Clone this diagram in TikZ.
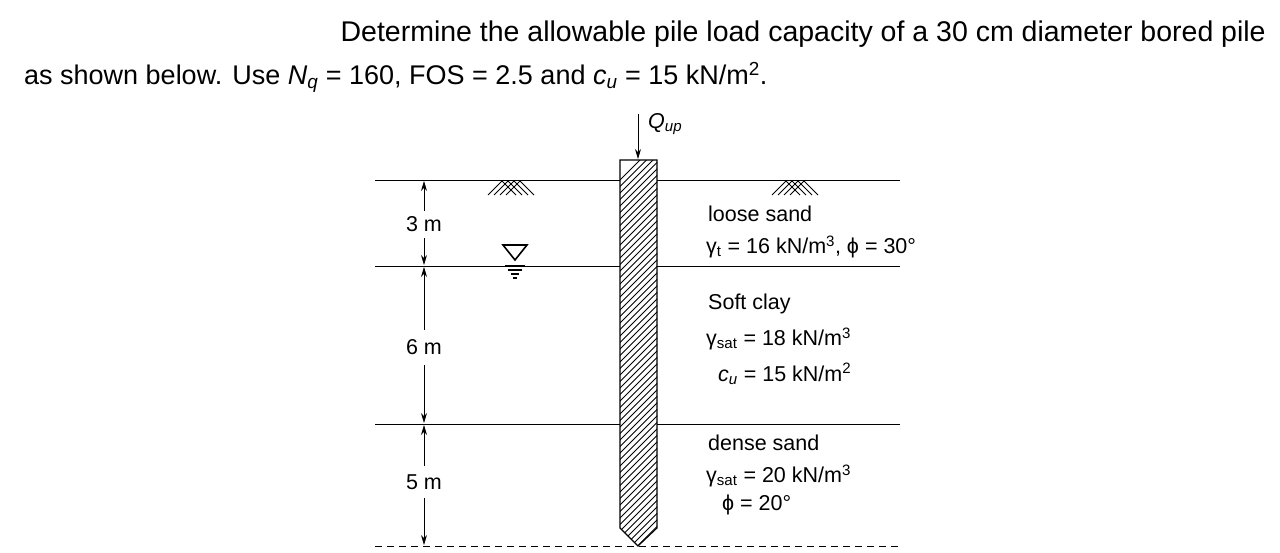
\documentclass[tikz,border=0pt]{standalone}
\usepackage{fontspec}
\setmainfont{Liberation Sans}
\usetikzlibrary{arrows.meta}
\newcommand{\ii}[1]{\textit{#1}}
\begin{document}
\begin{tikzpicture}[x=1pt,y=-1pt,
 lbl/.style={font=\fontsize{21.5}{25}\selectfont,anchor=west,inner sep=0},
 dim/.style={-{Stealth[length=10pt,width=6pt]},line width=0.8pt},
 gl/.style={line width=0.9pt}]
\useasboundingbox (0,0) rectangle (1280,552);
\node[anchor=east,inner sep=0,font=\fontsize{28.5}{32}\selectfont] (t1) at (1266,34) {Determine the allowable pile load capacity of a 30 cm diameter bored pile};
\node[anchor=west,inner sep=0,font=\fontsize{27}{32}\selectfont] (t2) at (24,77) {as shown below. Use \ii{N}\textsubscript{\ii{q}} = 160, FOS = 2.5 and \ii{c}\textsubscript{\ii{u}} = 15 kN/m\textsuperscript{2}.};
% ground lines
\draw[gl] (375,180) -- (620,180) (657,180) -- (900,180);
\draw[gl] (375,266) -- (620,266) (657,266) -- (900,266);
\draw[gl] (375,424) -- (620,424) (657,424) -- (900,424);
\draw[gl,dash pattern=on 7pt off 5pt] (375,546) -- (900,546);
% pile
\begin{scope}
\clip (620,160) -- (657,160) -- (657,528) -- (638,546) -- (620,528) -- cycle;
\foreach \k in {0,...,62}{\draw[line width=0.8pt] (600,200+\k*6.5) -- (680,120+\k*6.5);}
\end{scope}
\draw[line width=1.1pt] (620,160) -- (657,160) -- (657,528) -- (638,546) -- (620,528) -- cycle;
\coordinate (qtop) at (638,114);
\coordinate (qbot) at (638,159);
\draw[dim] (qtop) -- (qbot);
\node[lbl] (q) at (648,124) {\ii{Q}\textsubscript{\ii{up}}};
% ground hatch symbols
\foreach \xx in {488,772}{
 \foreach \k in {0,6,12,18}{
  \draw[line width=0.8pt] (\xx+\k,195) -- (\xx+\k+14,181);
  \draw[line width=0.8pt] (\xx+\k+28,195) -- (\xx+\k+14,181);
 }}
% water table
\draw[line width=1.6pt] (503,245) -- (527,245) -- (515,260) -- cycle;
\draw[line width=1.2pt] (505,266) -- (525,266) (508,270) -- (522,270) (511,274) -- (519,274) (513,278) -- (517,278);
% dimensions
\node[lbl,anchor=center] (d3) at (424,224) {3 m};
\node[lbl,anchor=center] (d6) at (424,347) {6 m};
\node[lbl,anchor=center] (d5) at (424,482) {5 m};
\draw[dim] (424,211) -- (424,181);
\draw[dim] (424,238) -- (424,265);
\draw[dim] (424,330) -- (424,267);
\draw[dim] (424,365) -- (424,423);
\draw[dim] (424,466) -- (424,425);
\draw[dim] (424,498) -- (424,545);
% layer texts
\node[lbl] (s1) at (708,214) {loose sand};
\node[lbl] (s1b) at (706,247) {γ\textsubscript{t} = 16 kN/m\textsuperscript{3}, ϕ = 30°};
\node[lbl] (s2) at (708,304) {Soft clay};
\node[lbl] (s2b) at (706,339) {γ\textsubscript{sat} = 18 kN/m\textsuperscript{3}};
\node[lbl] (s2c) at (718,374) {\ii{c}\textsubscript{\ii{u}} = 15 kN/m\textsuperscript{2}};
\node[lbl] (s3) at (708,443) {dense sand};
\node[lbl] (s3b) at (706,476) {γ\textsubscript{sat} = 20 kN/m\textsuperscript{3}};
\node[lbl] (s3c) at (722,505) {ϕ = 20°};
\end{tikzpicture}
\end{document}
